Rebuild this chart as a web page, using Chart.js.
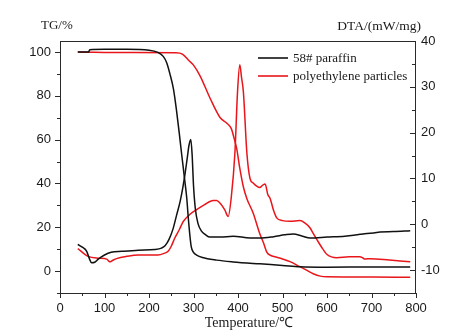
<!DOCTYPE html>
<html>
<head>
<meta charset="utf-8">
<script src="https://cdn.jsdelivr.net/npm/chart.js@4.4.1/dist/chart.umd.min.js"></script>
<style>
  html, body { margin: 0; padding: 0; background: #fff; }
</style>
</head>
<body>
<canvas id="chart" width="474" height="335"></canvas>
<script>
// tick labels
const tempTicks = [0, 100, 200, 300, 400, 500, 600, 700, 800];
const tgTicks = [0, 20, 40, 60, 80, 100];
const dtaTicks = [-10, 0, 10, 20, 30, 40];

// 58# paraffin, TG (%)
const tgParaffinT = [40, 64, 67, 100, 150, 200, 220, 232, 240, 247, 255, 262, 268, 273, 280, 285, 288, 292, 295, 300, 307, 320, 352, 389, 449, 500, 539, 600, 700, 787];
const tgParaffin = [100, 100, 101, 101.2, 101.2, 100.8, 99.8, 98, 95, 90, 83, 73, 63, 54, 42, 33, 25, 16, 11, 8.5, 7.3, 6.2, 5, 4.2, 3.3, 2.6, 2, 1.8, 1.9, 1.9];

// polyethylene particles, TG (%)
const tgPeT = [40, 150, 260, 275, 290, 300, 315, 337, 360, 375, 385, 392, 397, 404, 412, 420, 434, 449, 457, 465, 475, 487, 500, 517, 539, 555, 569, 585, 600, 700, 787];
const tgPe = [100, 99.7, 99.6, 99, 96, 94, 89, 79, 70, 67.5, 65, 60, 56, 47, 38.5, 33, 26.5, 17, 13, 8.5, 7, 6.3, 5.5, 4.3, 2, 0.3, -1.2, -2.3, -2.6, -2.7, -2.8];

// 58# paraffin, DTA (mW/mg)
const dtaParaffinT = [40, 50, 60, 66, 71, 78, 86, 100, 115, 139, 176, 213, 228, 236, 245, 254, 262, 270, 276, 281, 286, 290, 294, 297, 300, 304, 310, 318, 326, 337, 360, 389, 427, 449, 480, 505, 524, 545, 562, 600, 640, 660, 674, 690, 705, 719, 750, 787];
const dtaParaffin = [-4.4, -5, -5.9, -7.5, -8.4, -8.3, -7.6, -6.7, -6.1, -5.9, -5.65, -5.5, -5.2, -4.7, -3.3, -1, 2, 5, 8, 11, 14.5, 17.3, 18.5, 15, 8.5, 3.5, 0.2, -1.5, -2.2, -2.8, -2.8, -2.6, -3, -3, -2.7, -2.3, -2.1, -2.6, -3, -2.8, -2.6, -2.4, -2.2, -2, -1.9, -1.7, -1.6, -1.4];

// polyethylene particles, DTA (mW/mg)
const dtaPeT = [40, 63, 86, 105, 112, 118, 127, 150, 176, 220, 235, 243, 250, 258, 268, 277, 290, 307, 325, 344, 352, 360, 370, 378, 385, 393, 399, 404, 408, 412, 420, 427, 434, 442, 449, 455, 461, 467, 472, 480, 487, 500, 517, 539, 550, 562, 569, 577, 590, 600, 622, 650, 674, 680, 685, 697, 740, 787];
const dtaPe = [-5.3, -7, -7.4, -7.6, -8.2, -7.9, -7.5, -7, -6.7, -6.7, -6.3, -5.9, -4.8, -3, -1.2, 0.6, 2, 3.2, 4.3, 5.2, 5.2, 4.6, 3.2, 1.7, 6, 15.5, 29, 34.8, 32, 29, 15.5, 10, 9, 8.3, 8, 8.5, 8.8, 6.5, 5.7, 3, 1.4, 0.8, 0.65, 0.8, 0.3, -0.8, -2, -3.3, -5.3, -6.6, -7.3, -7.1, -7.1, -7.3, -7.6, -7.5, -7.8, -8.2];

const BLACK = '#111111';
const RED = '#e8161b';

const pts = (xs, ys) => xs.map((x, i) => ({ x: x, y: ys[i] }));

const line = (ctx, x1, y1, x2, y2) => {
  ctx.beginPath();
  ctx.moveTo(x1, y1);
  ctx.lineTo(x2, y2);
  ctx.stroke();
};

// frame, major + minor tick marks, titles and legend
const decor = {
  id: 'decor',
  afterDraw(chart) {
    const { ctx, chartArea: a, scales } = chart;
    ctx.save();
    ctx.strokeStyle = '#2a2a2a';
    ctx.lineWidth = 1;
    ctx.strokeRect(Math.round(a.left) + 0.5, Math.round(a.top) + 0.5, Math.round(a.right - a.left) - 1, Math.round(a.bottom - a.top));

    // bottom axis, outward
    for (let v = 0; v <= 800; v += 50) {
      const px = Math.round(scales.x.getPixelForValue(v)) + 0.5;
      line(ctx, px, a.bottom, px, a.bottom + (v % 100 === 0 ? 5 : 3));
    }
    // left axis, outward
    for (let v = -10; v <= 100; v += 10) {
      const py = Math.round(scales.y.getPixelForValue(v)) + 0.5;
      line(ctx, a.left, py, a.left - (v % 20 === 0 ? 5 : 3), py);
    }
    // right axis, inward
    for (let v = -15; v <= 40; v += 5) {
      const py = Math.round(scales.y1.getPixelForValue(v)) + 0.5;
      line(ctx, a.right - 1, py, a.right - 1 - (v % 10 === 0 ? 5 : 3), py);
    }

    ctx.fillStyle = '#1a1a1a';
    ctx.textBaseline = 'middle';
    ctx.font = '13px "Liberation Serif"';
    ctx.textAlign = 'left';
    ctx.fillText('TG/%', 41, 26);
    ctx.textAlign = 'right';
    ctx.font = '13.5px "Liberation Serif"';
    ctx.fillText('DTA/(mW/mg)', 421, 26);
    ctx.textAlign = 'center';
    ctx.font = '14px "Liberation Serif"';
    ctx.fillText('Temperature/\u2103', 249, 323);

    // legend
    const items = [['58# paraffin', BLACK], ['polyethylene particles', RED]];
    ctx.font = '13px "Liberation Serif"';
    ctx.textAlign = 'left';
    ctx.lineWidth = 1.6;
    items.forEach((it, i) => {
      const y = 58 + i * 18;
      ctx.strokeStyle = it[1];
      line(ctx, 258, y, 288, y);
      ctx.fillText(it[0], 293, y + 1);
    });
    ctx.restore();
  }
};

const ds = (label, xs, ys, color, axis) => ({
  label: label,
  data: pts(xs, ys),
  borderColor: color,
  borderWidth: 1.5,
  pointRadius: 0,
  fill: false,
  cubicInterpolationMode: 'monotone',
  yAxisID: axis
});

const tickFont = { family: '"Liberation Sans", Arial, sans-serif', size: 13 };

new Chart(document.getElementById('chart'), {
  type: 'line',
  data: {
    datasets: [
      ds('58# paraffin TG', tgParaffinT, tgParaffin, BLACK, 'y'),
      ds('58# paraffin DTA', dtaParaffinT, dtaParaffin, BLACK, 'y1'),
      ds('polyethylene particles TG', tgPeT, tgPe, RED, 'y'),
      ds('polyethylene particles DTA', dtaPeT, dtaPe, RED, 'y1')
    ]
  },
  options: {
    responsive: false,
    animation: false,
    layout: { padding: { top: 41, left: 0, right: 0, bottom: 0 } },
    plugins: { legend: { display: false }, tooltip: { enabled: false } },
    scales: {
      x: {
        type: 'linear',
        min: 0,
        max: 800,
        afterBuildTicks: (s) => { s.ticks = tempTicks.map(v => ({ value: v })); },
        afterFit: (s) => { s.height = 42; },
        grid: { display: false, drawTicks: false },
        border: { display: false },
        ticks: { font: tickFont, color: '#1a1a1a', padding: 8, maxRotation: 0 }
      },
      y: {
        position: 'left',
        min: -10,
        max: 105,
        afterBuildTicks: (s) => { s.ticks = tgTicks.map(v => ({ value: v })); },
        afterFit: (s) => { s.width = 60; },
        grid: { display: false, drawTicks: false },
        border: { display: false },
        ticks: { font: tickFont, color: '#1a1a1a', padding: 9 }
      },
      y1: {
        position: 'right',
        min: -15,
        max: 40,
        afterBuildTicks: (s) => { s.ticks = dtaTicks.map(v => ({ value: v })); },
        afterFit: (s) => { s.width = 58; },
        grid: { display: false, drawTicks: false },
        border: { display: false },
        ticks: { font: tickFont, color: '#1a1a1a', padding: 5 }
      }
    }
  },
  plugins: [decor]
});
</script>
</body>
</html>
